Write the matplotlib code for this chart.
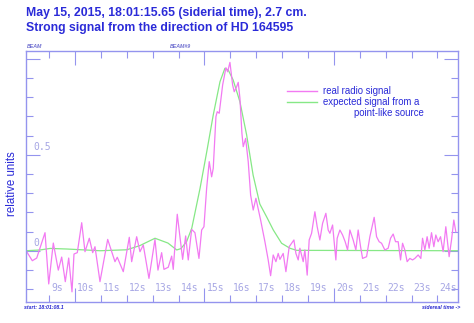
import matplotlib.pyplot as plt
from matplotlib.lines import Line2D

title_lines = ["May 15, 2015, 18:01:15.65 (siderial time), 2.7 cm.",
               "Strong signal from the direction of HD 164595"]

# measured radio signal (seconds after start, relative units)
signal_t = [8.135, 8.351, 8.521, 8.842, 8.985, 9.162, 9.355, 9.486, 9.625, 9.757,
            9.884, 9.961, 10.089, 10.259, 10.386, 10.552, 10.683, 10.772, 10.965, 11.263,
            11.544, 11.633, 11.865, 12.097, 12.189, 12.382, 12.510, 12.637, 12.857, 13.089,
            13.205, 13.347, 13.436, 13.602, 13.734, 13.795, 13.950, 14.158, 14.274, 14.375,
            14.506, 14.633, 14.788, 14.892, 14.981, 15.085, 15.185, 15.278, 15.340, 15.444,
            15.494, 15.571, 15.703, 15.830, 15.896, 15.985, 16.089, 16.151, 16.243, 16.305,
            16.371, 16.448, 16.498, 16.591, 16.691, 16.784, 16.884, 16.988, 17.170, 17.336,
            17.463, 17.556, 17.656, 17.761, 17.849, 17.915, 18.042, 18.147, 18.274, 18.367,
            18.456, 18.533, 18.622, 18.687, 18.815, 18.880, 18.969, 19.046, 19.139, 19.266,
            19.355, 19.459, 19.564, 19.691, 19.780, 19.846, 19.950, 20.077, 20.127, 20.232,
            20.336, 20.436, 20.529, 20.618, 20.745, 20.849, 20.938, 21.031, 21.108, 21.263,
            21.390, 21.556, 21.649, 21.749, 21.842, 21.969, 22.097, 22.189, 22.290, 22.382,
            22.483, 22.575, 22.653, 22.741, 22.830, 22.934, 23.039, 23.127, 23.255, 23.359,
            23.425, 23.514, 23.602, 23.680, 23.772, 23.861, 23.938, 24.027, 24.120, 24.220,
            24.324, 24.452, 24.544, 24.633, 24.710]
signal_v = [-0.005, -0.052, -0.038, 0.094, -0.173, 0.040, -0.101, -0.033, -0.161, -0.038,
            -0.214, -0.017, -0.010, 0.146, -0.005, 0.065, -0.010, 0.021, -0.161, 0.059,
            -0.057, -0.034, -0.109, 0.070, -0.057, 0.073, -0.005, 0.030, -0.144, 0.059,
            -0.101, -0.010, -0.097, -0.086, -0.028, -0.097, 0.190, -0.045, 0.077, -0.048,
            0.111, 0.094, -0.040, 0.108, 0.125, 0.325, 0.464, 0.385, 0.429, 0.698,
            0.724, 0.716, 0.863, 0.953, 0.932, 0.981, 0.863, 0.828, 0.854, 0.877,
            0.794, 0.611, 0.542, 0.585, 0.464, 0.290, 0.212, 0.273, 0.160, 0.047,
            -0.048, -0.130, -0.022, -0.057, -0.014, -0.045, -0.014, -0.109, 0.021, 0.039,
            0.056, -0.014, -0.048, 0.013, -0.057, 0.004, -0.127, 0.056, 0.091, 0.203,
            0.125, 0.056, 0.143, 0.195, 0.108, 0.091, 0.134, -0.048, 0.065, 0.108,
            0.082, 0.047, 0.004, 0.108, 0.056, 0.004, 0.108, 0.021, -0.040, -0.031,
            0.073, 0.174, 0.073, 0.047, 0.039, 0.004, 0.013, 0.065, 0.087, 0.047,
            0.047, -0.048, 0.039, 0.004, -0.057, -0.040, -0.048, -0.040, -0.022, -0.040,
            0.065, 0.004, 0.073, 0.013, 0.094, 0.021, 0.082, 0.047, 0.073, -0.005,
            0.125, -0.031, 0.056, 0.160, 0.099]

# beam pattern expected for a point-like source
expected_t = [8.11, 8.65, 9.04, 9.68, 10.97, 12.0, 12.51, 13.09, 13.59, 13.93,
              14.09, 14.31, 14.51, 14.83, 15.09, 15.34, 15.60, 15.79, 15.92, 16.11,
              16.37, 16.63, 16.88, 17.14, 17.40, 17.66, 17.98, 18.30, 18.56, 24.79]
expected_v = [0.0, 0.004, 0.012, 0.009, 0.0, 0.005, 0.027, 0.065, 0.040, 0.004,
              0.011, 0.047, 0.117, 0.325, 0.516, 0.707, 0.880, 0.950, 0.941, 0.889,
              0.776, 0.603, 0.394, 0.243, 0.177, 0.108, 0.039, 0.013, 0.002, 0.0]

sec_ticks = list(range(9, 25))
sec_labels = [f"{s}s" for s in sec_ticks]
value_ticks = [0.0, 0.5]
value_labels = ["0", "0.5"]

axis_col = '#9494ee'
label_col = '#a6a6e4'
text_col = '#2a2ad8'
pink = '#f27af2'
green = '#86e886'

plt.rcParams['font.family'] = ['Liberation Sans', 'DejaVu Sans']

fig = plt.figure(figsize=(4.74, 3.23), dpi=100)
fig.patch.set_facecolor('white')
ax = fig.add_axes([0.055, 0.065, 0.911, 0.777])

ax.plot(expected_t, expected_v, color=green, lw=0.9)
ax.plot(signal_t, signal_v, color=pink, lw=0.9)

ax.set_xlim(8.11, 24.79)
ax.set_ylim(-0.267, 1.04)

for sp in ax.spines.values():
    sp.set_color(axis_col)
    sp.set_linewidth(1.0)

ax.set_xticks([10, 15, 20])
ax.set_xticks([s for s in sec_ticks if s % 5], minor=True)
ax.set_yticks([0.0, 0.5, 1.0])
ax.set_yticks([-0.2, -0.1, 0.1, 0.2, 0.3, 0.4, 0.6, 0.7, 0.8, 0.9], minor=True)
ax.tick_params(which='both', direction='in', colors=axis_col, width=0.8,
               top=True, right=True, labelbottom=False, labelleft=False)
ax.tick_params(which='major', length=10)
ax.tick_params(which='minor', length=5)

for s, lab in zip(sec_ticks, sec_labels):
    ax.annotate(lab, xy=(s, 0), xycoords=('data', 'axes fraction'),
                xytext=(1.5, 10), textcoords='offset points',
                ha='left', va='center', fontsize=7, color=label_col,
                family='DejaVu Sans Mono')
for v, lab in zip(value_ticks, value_labels):
    ax.annotate(lab, xy=(0, v), xycoords=('axes fraction', 'data'),
                xytext=(5, 5.5), textcoords='offset points',
                ha='left', va='center', fontsize=7, color=label_col,
                family='DejaVu Sans Mono')

fig.text(0.025, 0.433, 'relative units', rotation=90, ha='center', va='center',
         fontsize=8.3, color=text_col)

fig.text(0.055, 1 - 16 / 323, title_lines[0], ha='left', va='baseline',
         fontsize=8.85, fontweight='bold', color=text_col)
fig.text(0.055, 1 - 30.5 / 323, title_lines[1], ha='left', va='baseline',
         fontsize=8.85, fontweight='bold', color=text_col)

# small annotations around the frame
fig.text(27 / 474, 1 - 47 / 323, 'BEAM', fontsize=3.8, style='italic',
         fontweight='bold', color='#7070d0', va='center')
fig.text(170 / 474, 1 - 47 / 323, 'BEAM#9', fontsize=3.8, style='italic',
         fontweight='bold', color='#7070d0', va='center')
fig.text(24 / 474, 1 - 307.5 / 323, 'start: 18:01:08.1', fontsize=3.8,
         style='italic', fontweight='bold', color='#2a2ad0', va='center')
fig.text(460 / 474, 1 - 307.5 / 323, 'sidereal time ->', fontsize=3.8,
         style='italic', fontweight='bold', color='#2a2ad0', va='center', ha='right')

# legend
fig.add_artist(Line2D([287 / 474, 317 / 474], [1 - 91 / 323] * 2, color=pink, lw=1.0))
fig.add_artist(Line2D([287 / 474, 317 / 474], [1 - 102.3 / 323] * 2, color=green, lw=1.0))
fig.text(323 / 474, 1 - 91 / 323, 'real radio signal', fontsize=6.9,
         color=text_col, va='center', ha='left')
fig.text(323 / 474, 1 - 102.3 / 323, 'expected signal from a', fontsize=6.9,
         color=text_col, va='center', ha='left')
fig.text(424 / 474, 1 - 112.5 / 323, 'point-like source', fontsize=6.9,
         color=text_col, va='center', ha='right')

fig.savefig('out.png', dpi=100)
